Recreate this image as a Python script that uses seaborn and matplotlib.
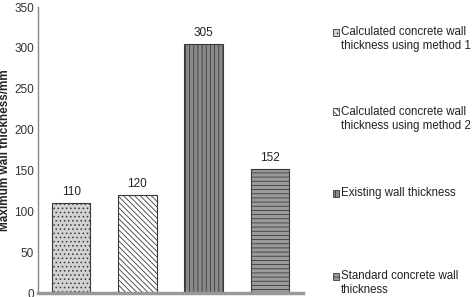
import matplotlib
matplotlib.use('Agg')
import matplotlib.pyplot as plt
import seaborn as sns
import pandas as pd
from matplotlib.patches import Rectangle

categories = [
    "Calculated concrete wall\nthickness using method 1",
    "Calculated concrete wall\nthickness using method 2",
    "Existing wall thickness",
    "Standard concrete wall\nthickness",
]
values = [110, 120, 305, 152]
face_colors = ["#d2d2d2", "#ffffff", "#8a8a8a", "#9a9a9a"]
hatches = ["....", "\\\\\\\\\\\\", "||||", "----"]
# first-line centre of each legend entry, in pixels from the top
legend_rows = [32, 112, 193, 276]

df = pd.DataFrame({"category": categories, "value": values})

sns.set_style("white")
plt.rcParams['font.family'] = ['Liberation Sans', 'DejaVu Sans']
plt.rcParams['hatch.linewidth'] = 0.6

W, H = 474, 297
fig = plt.figure(figsize=(W / 100, H / 100), dpi=100)
ax = fig.add_axes([38 / W, 4 / H, 265 / W, 286 / H])

sns.barplot(data=df, x="category", y="value", hue="category", palette=face_colors,
            width=0.58, legend=False, ax=ax, saturation=1)

for bar, h in zip(ax.patches, hatches):
    bar.set_hatch(h)
    bar.set_edgecolor("#3a3a3a")
    bar.set_linewidth(0.8)

for bar, v in zip(ax.patches, values):
    ax.text(bar.get_x() + bar.get_width() / 2, v + 6, str(v),
            ha="center", va="bottom", fontsize=8.5, color="#222222")

ax.set_ylim(0, 350)
ax.set_yticks(range(0, 351, 50))
ax.set_xticks([])
ax.set_xlabel("")
ax.set_ylabel("Maximum wall thickness/mm", fontsize=8.5, fontweight="bold", labelpad=2)
ax.tick_params(axis="y", length=0, labelsize=8.5, labelcolor="#333333", pad=3)

for side in ["top", "right"]:
    ax.spines[side].set_visible(False)
ax.spines["left"].set_color("#888888")
ax.spines["left"].set_linewidth(1.0)
ax.spines["bottom"].set_color("#999999")
ax.spines["bottom"].set_linewidth(2.5)

# legend, laid out by hand to match the spread-out entries
for label, c, h, row in zip(categories, face_colors, hatches, legend_rows):
    fig.patches.append(Rectangle(((333) / W, 1 - (row + 3.5) / H), 6 / W, 7 / H,
                                 transform=fig.transFigure, facecolor=c,
                                 edgecolor="#3a3a3a", hatch=h, linewidth=0.6))
    fig.text(341 / W, 1 - (row - 6) / H, label, ha="left", va="top",
             fontsize=8.3, color="#222222", linespacing=1.25)

fig.savefig("out.png", dpi=100)
